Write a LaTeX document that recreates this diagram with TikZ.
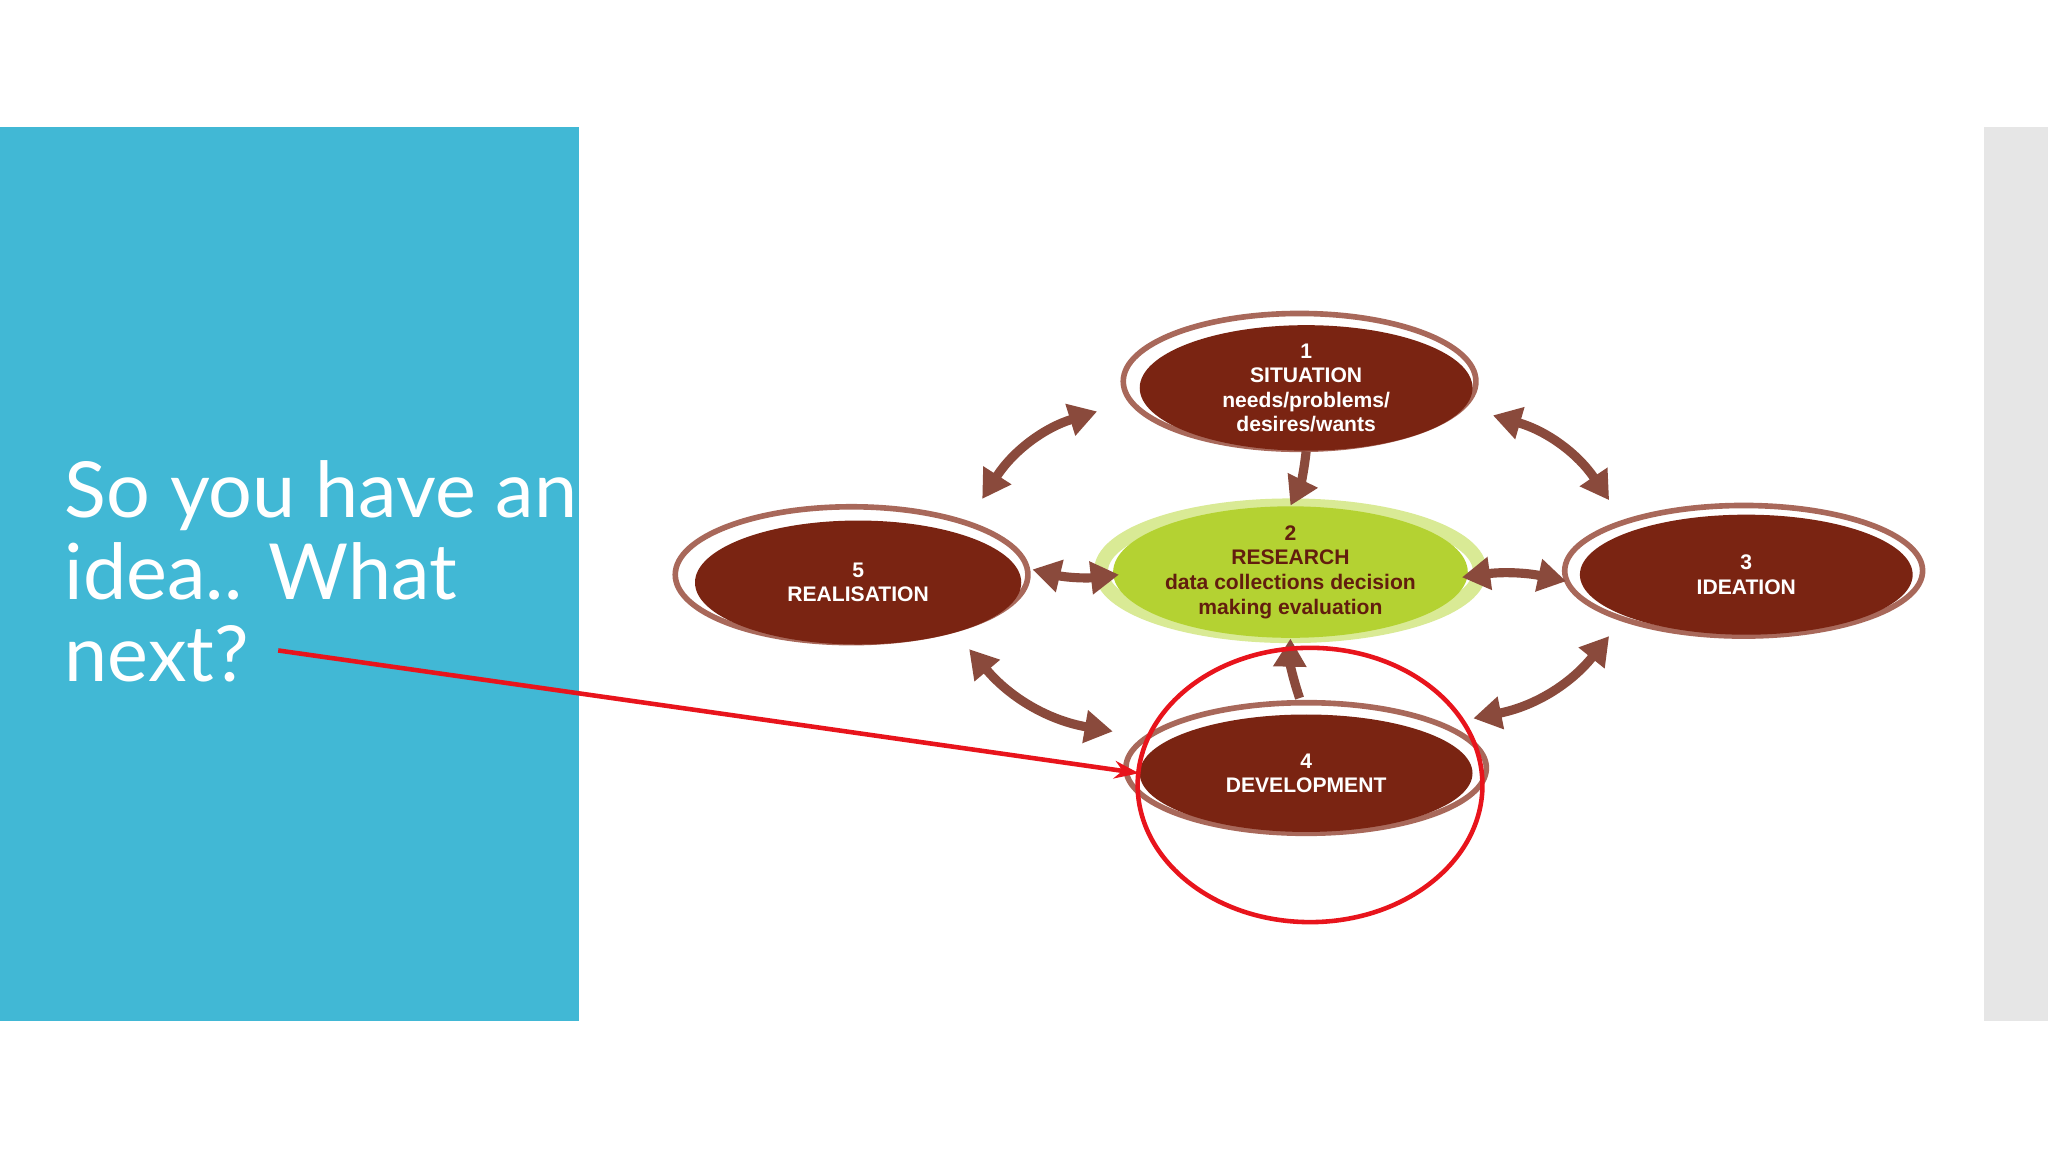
\documentclass[tikz,border=0pt]{standalone}
\usepackage{fontspec}
\setmainfont{Liberation Sans}
\newfontfamily\slidefont{Lato}
\usetikzlibrary{arrows.meta,shapes.geometric,calc}
\definecolor{slideblue}{HTML}{41B8D5}
\definecolor{slidegrey}{HTML}{E6E6E6}
\definecolor{brownfill}{HTML}{7A2412}
\definecolor{brownring}{HTML}{A8685A}
\definecolor{arrowbrown}{HTML}{8A4A3C}
\definecolor{greenfill}{HTML}{B4D232}
\definecolor{greenring}{HTML}{D9EA95}
\definecolor{redline}{HTML}{E8141C}
\begin{document}
\begin{tikzpicture}[x=0.013061cm,y=-0.013061cm,
  stage/.style={ellipse,fill=brownfill,text=white,font=\bfseries\fontsize{6}{7}\selectfont,align=center,inner sep=0pt},
  ring/.style={draw=brownring,line width=1.6pt},
  flow/.style={draw=arrowbrown,line width=2.6pt,-{Triangle[length=8pt,width=9pt]}},
  bflow/.style={draw=arrowbrown,line width=2.6pt,{Triangle[length=8pt,width=9pt]}-{Triangle[length=8pt,width=9pt]}}]
\useasboundingbox (0,0) rectangle (1568,882);
\fill[white] (0,0) rectangle (1568,882);
\fill[slideblue] (0,97) rectangle (443,782);
\fill[slidegrey] (1519,97) rectangle (1568,782);
\node[anchor=north west,text=white,align=left,font=\slidefont\fontsize{22}{23.4}\selectfont] (title) at (40,343) {So you have an\\idea.. What\\next?};
% rings
\draw[ring] (995,292) ellipse (135 and 52);
\draw[ring] (652,440) ellipse (135 and 52);
\draw[ring] (1335,437) ellipse (137 and 50);
\draw[ring] (1000,588) ellipse (138 and 50);
\draw[greenring,line width=4pt] (988,437) ellipse (145 and 50);
% nodes
\node[stage,minimum width=255*0.3713pt,minimum height=95*0.3713pt] (sit) at (1000,297) {1\\SITUATION\\needs/problems/\\desires/wants};
\node[stage,fill=greenfill,text=brownfill!80!black,minimum width=270*0.3713pt,minimum height=88*0.3713pt] (res) at (988,438) {2\\RESEARCH\\data collections decision\\making evaluation};
\node[stage,minimum width=250*0.3713pt,minimum height=95*0.3713pt] (rea) at (657,446) {5\\REALISATION};
\node[stage,minimum width=255*0.3713pt,minimum height=92*0.3713pt] (ide) at (1337,440) {3\\IDEATION};
\node[stage,minimum width=255*0.3713pt,minimum height=90*0.3713pt] (dev) at (1000,592) {4\\DEVELOPMENT};
% arrows
\coordinate (a1s) at (752,382);
\coordinate (a1e) at (840,315);
\draw[bflow] (a1s) to[bend left=20] (a1e);
\coordinate (a2s) at (1143,318);
\coordinate (a2e) at (1232,383);
\draw[bflow] (a2s) to[bend left=20] (a2e);
\coordinate (a3s) at (1232,487);
\coordinate (a3e) at (1128,550);
\draw[bflow] (a3s) to[bend left=20] (a3e);
\coordinate (a4s) at (852,560);
\coordinate (a4e) at (742,497);
\draw[bflow] (a4s) to[bend left=20] (a4e);
\draw[flow] (sit.south) to[bend left=10] (res.north);
\draw[flow] ($(dev.north)+(-5,-12)$) to[bend left=10] (res.south);
\draw[bflow] ($(res.west)+(5,2)$) to[bend left=10] ($(rea.east)+(8,-10)$);
\draw[bflow] ($(res.east)+(-5,4)$) to[bend left=10] ($(ide.west)+(-10,5)$);
% red annotation
\draw[redline,line width=1.3pt] (1003,601) ellipse (132 and 105);
\coordinate (rtail) at (213,498);
\draw[redline,line width=1.3pt,-{Stealth[length=7pt,width=5pt]}] (rtail) -- (dev.west);
\end{tikzpicture}
\end{document}
